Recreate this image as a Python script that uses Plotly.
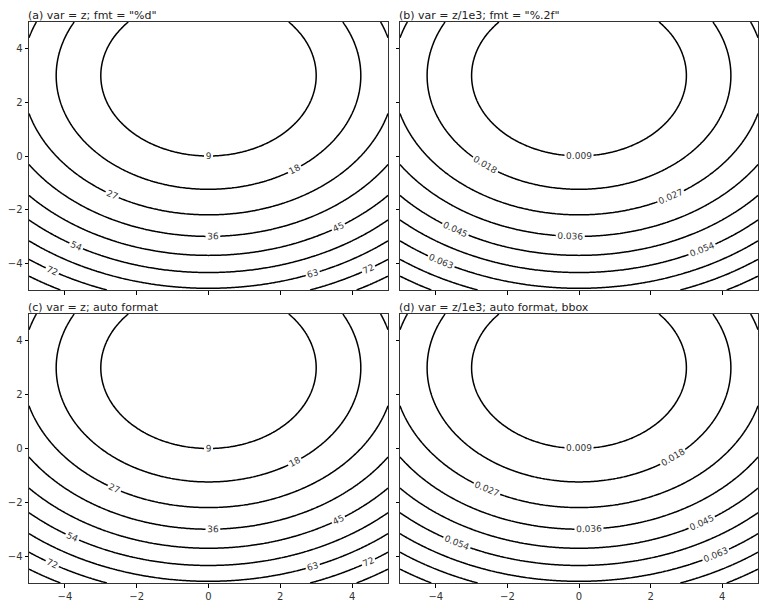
import numpy as np
import plotly.graph_objects as go

# grid and field: z = x^2 + (y - 3)^2, levels every 9 from 9 to 81
xs = np.linspace(-5, 5, 201)
ys = np.linspace(-5, 5, 201)
centre_x = 0.0
centre_y = 3.0
levels_start = 9
levels_end = 81
levels_step = 9

titles = [
    '(a) var = z; fmt = "%d"',
    '(b) var = z/1e3; fmt = "%.2f"',
    '(c) var = z; auto format',
    '(d) var = z/1e3; auto format, bbox',
]
scales = [1, 1e3, 1, 1e3]
label_fmts = ['.0f', '.3f', '.0f', '.3f']
tick_vals = [-4, -2, 0, 2, 4]

X, Y = np.meshgrid(xs, ys)
Z = (X - centre_x) ** 2 + (Y - centre_y) ** 2

# page has an 8px body margin, so the figure is a bit smaller than the window
W, H, OFF = 760, 599, 8


def px_x(p):
    return (p - OFF) / W


def px_y(p):
    return 1 - (p - OFF) / H


xdoms = [[px_x(29), px_x(388)], [px_x(400), px_x(758)]]
ydoms = [[px_y(290), px_y(22)], [px_y(583), px_y(314)]]

fig = go.Figure()

for i in range(4):
    row, col = divmod(i, 2)
    n = i + 1
    xa = 'x' if n == 1 else f'x{n}'
    ya = 'y' if n == 1 else f'y{n}'
    sc = scales[i]
    fig.add_trace(go.Contour(
        x=xs, y=ys, z=Z / sc,
        xaxis=xa, yaxis=ya,
        contours=dict(
            coloring='lines',
            start=levels_start / sc,
            end=levels_end / sc,
            size=levels_step / sc,
            showlabels=True,
            labelformat=label_fmts[i],
            labelfont=dict(size=9, color='#333333', family='DejaVu Sans'),
        ),
        colorscale=[[0, 'black'], [1, 'black']],
        line=dict(width=1.5),
        showscale=False,
        hoverinfo='skip',
    ))

    axis_common = dict(
        range=[-5, 5],
        tickvals=tick_vals,
        ticks='outside',
        ticklen=3.5,
        tickwidth=0.8,
        tickcolor='black',
        showline=True,
        linecolor='#333333',
        linewidth=1,
        mirror=True,
        showgrid=False,
        zeroline=False,
        tickfont=dict(family='DejaVu Sans', size=10, color='#333333'),
    )
    key_x = 'xaxis' if n == 1 else f'xaxis{n}'
    key_y = 'yaxis' if n == 1 else f'yaxis{n}'
    fig.layout[key_x] = dict(axis_common, domain=xdoms[col], anchor=ya,
                             showticklabels=(row == 1), tickformat='~g')
    fig.layout[key_y] = dict(axis_common, domain=ydoms[row], anchor=xa,
                             showticklabels=(col == 0), tickformat='~g')

    fig.add_annotation(
        text=titles[i], xref='paper', yref='paper',
        x=xdoms[col][0], y=ydoms[row][1],
        xanchor='left', yanchor='bottom', yshift=-1, xshift=-2,
        borderpad=0,
        showarrow=False,
        font=dict(family='DejaVu Sans', size=11, color='#222222'),
    )

fig.update_layout(
    width=W, height=H,
    margin=dict(l=0, r=0, t=0, b=0),
    paper_bgcolor='white',
    plot_bgcolor='white',
    showlegend=False,
)

fig.write_html("out.html")
